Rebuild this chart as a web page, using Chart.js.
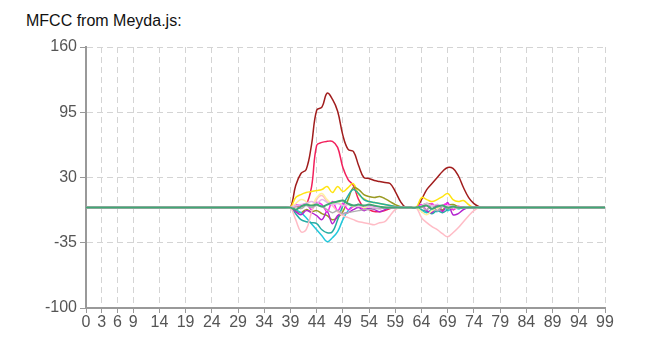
<!DOCTYPE html>
<html>
<head>
<meta charset="utf-8">
<script src="https://cdn.jsdelivr.net/npm/chart.js@4"></script>
<style>
  body { margin: 0; background: #fff; }
  #title { position: absolute; left: 26px; top: 13px; font: 16px "Liberation Sans", Arial, sans-serif; color: #111; line-height: 1; }
  #wrap { position: absolute; left: 0; top: 0; width: 649px; height: 350px; }
</style>
</head>
<body>
<div id="title">MFCC from Meyda.js:</div>
<div id="wrap"><canvas id="mfccChart"></canvas></div>
<script>
// frames 0..99, coefficients are only non-zero from frame 39 to 76
const frameCount = 100;
const activeStart = 39;
const xTicks = [0, 3, 6, 9, 14, 19, 24, 29, 34, 39, 44, 49, 54, 59, 64, 69, 74, 79, 84, 89, 94, 99];
const yTicks = [-100, -35, 30, 95, 160];

// values for frames 39..76
const c0  = [0, 22, 34, 38, 62, 97, 100, 114, 108, 96, 72, 58, 56, 42, 30, 29, 27, 26, 25, 24, 16, 6, 0, 0, 0, 8, 18, 24, 30, 36, 40, 39, 32, 20, 10, 4, 1, 0];
const c1  = [0, 1, 2, 3, 20, 62, 65, 66, 66, 60, 40, 28, 22, 8, 0, -2, -4, -4, -3, -1, 0, 0, 0, 0, 0, 1, 2, -2, 3, -3, 2, -2, 1, 0, 0, 0, 0, 0];
const c2  = [0, 10, 13, 15, 16, 17, 18, 21, 15, 21, 16, 20, 24, 13, 9, 6, 5, 4, 3, 2, 1, 0, 0, 0, 0, 10, 8, 6, 8, 11, 14, 8, 6, 7, 3, 0, 0, 0];
const c3  = [0, -3, -5, -2, -4, -3, -6, -8, -12, -10, -4, 8, 20, 18, 13, 11, 10, 11, 9, 6, 3, 1, 0, 0, 0, 2, 4, 3, 1, -2, 2, 3, 1, 0, 0, 0, 0, 0];
const c4  = [0, -2, -5, -10, -16, -22, -28, -34, -30, -24, -12, -3, 2, 1, 0, -1, 0, 0, 0, 0, 0, 0, 0, 0, 0, -3, -5, -2, -4, 2, -3, 0, -1, 0, 0, 0, 0, 0];
const c5  = [0, -6, -12, -14, -15, -16, -22, -25, -24, -12, 2, 12, 18, 14, 8, 6, 5, 4, 3, 2, 1, 0, 0, 0, 0, -2, -4, -6, -3, -5, -2, 1, -1, 0, 0, 0, 0, 0];
const c6  = [0, -4, -7, -3, -5, -8, -12, -4, -16, -8, -6, -5, -2, 0, -3, -1, -2, -4, -2, 0, 0, 0, 0, 0, 0, 2, -3, -5, 2, -4, 5, -7, -6, -2, 0, 0, 0, 0];
const c7  = [0, 3, 2, 4, -2, 5, 3, -4, 6, -3, 4, -2, 1, 3, -2, 2, 1, -1, 0, 0, 0, 0, 0, 0, 0, 3, -2, 4, -3, 2, 4, -2, 1, 0, 0, 0, 0, 0];
const c8  = [0, -12, -24, -22, -5, 8, 12, 6, 2, -4, -8, -10, -12, -14, -15, -16, -17, -15, -14, -8, -2, 0, 0, 0, 0, -10, -15, -19, -22, -26, -29, -25, -20, -14, -8, -3, 0, 0];
const c9  = [0, 4, 8, 6, 2, 10, 14, 8, 4, 6, 2, 3, 1, 2, 0, 1, 0, 0, 0, 0, 0, 0, 0, 0, 0, -4, -7, -3, -1, 2, 1, 0, 0, 0, 0, 0, 0, 0];
const c10 = [0, 1, -1, 2, 0, 2, 1, -2, -5, -3, -6, -5, -4, -3, -2, -2, -1, -1, 0, 0, 0, 0, 0, 0, 0, 1, -2, 2, -3, 1, -1, 0, 0, 0, 0, 0, 0, 0];
const c11 = [0, 2, 3, 4, 6, 4, 8, 5, 3, 4, 2, 3, 2, 1, 2, 1, 0, 0, 0, 0, 0, 0, 0, 0, 0, 2, 4, 2, 3, 1, 2, 1, 0, 0, 0, 0, 0, 0];
const c12 = [0, -2, 1, 3, 2, 3, 1, 3, 5, 6, 7, 4, 2, 3, 2, 3, 2, 1, 0, 0, 0, 0, 0, 0, 0, 1, 2, -1, 1, 2, 0, 1, 0, 0, 0, 0, 0, 0];

const coefficients = [c0, c1, c2, c3, c4, c5, c6, c7, c8, c9, c10, c11, c12];
const colors = ['#a11d1d', '#f2205c', '#ffe411', '#9a9a22', '#22c8dc', '#25ada4', '#b323cf',
                '#ff22ee', '#ffbcc6', '#fff1a0', '#b0b0b0', '#e6b8ea', '#3fa874'];

function toPoints(vals) {
  const pts = [];
  for (let i = 0; i < frameCount; i++) {
    const k = i - activeStart;
    pts.push({ x: i, y: (k >= 0 && k < vals.length) ? vals[k] : 0 });
  }
  return pts;
}

// last coefficient on top, like the original
const datasets = coefficients.map((vals, i) => ({
  label: 'mfcc ' + i,
  data: toPoints(vals),
  borderColor: colors[i],
  borderWidth: i === 12 ? 2 : 1.5,
  pointRadius: 0,
  tension: 0.4,
  fill: false
})).reverse();

const tickFont = { family: '"Liberation Sans", Arial, sans-serif', size: 16 };

new Chart(document.getElementById('mfccChart'), {
  type: 'line',
  data: { datasets: datasets },
  options: {
    responsive: true,
    maintainAspectRatio: false,
    animation: false,
    layout: { padding: { top: 47, right: 44, left: 0, bottom: 0 } },
    plugins: { legend: { display: false }, tooltip: { enabled: false } },
    scales: {
      x: {
        type: 'linear',
        min: 0, max: 99,
        afterBuildTicks: s => { s.ticks = xTicks.map(v => ({ value: v })); },
        afterFit: s => { s.height = 42; },
        ticks: { color: '#555', font: tickFont, padding: 0, maxRotation: 0, autoSkip: false },
        grid: { color: '#d4d4d4', tickLength: 5, tickColor: '#999', tickBorderDash: [] },
        border: { color: '#999', width: 2, dash: [6, 4] }
      },
      y: {
        min: -100, max: 160,
        afterBuildTicks: s => { s.ticks = yTicks.map(v => ({ value: v })); },
        afterFit: s => { s.width = 86; },
        ticks: { color: '#555', font: tickFont, padding: 3 },
        grid: { color: '#d4d4d4', tickLength: 6, tickColor: '#999', tickBorderDash: [] },
        border: { color: '#999', width: 2, dash: [6, 4] }
      }
    }
  }
});
</script>
</body>
</html>
